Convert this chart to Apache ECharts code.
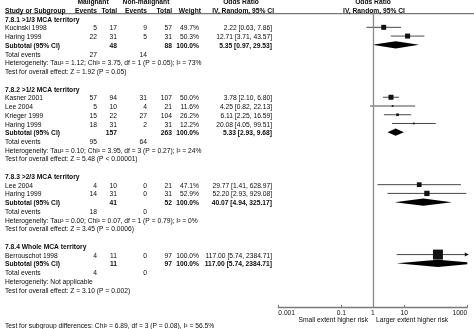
<!DOCTYPE html>
<html><head><meta charset="utf-8">
<script src="https://cdn.jsdelivr.net/npm/echarts@6/dist/echarts.min.js"></script>
<style>html,body{margin:0;padding:0;background:#fff}#c{width:474px;height:329px}</style>
</head><body><div id="c"></div>
<script>
// ---------- data ----------
const groupTitles = ['7.8.1 >1/3 MCA territory','7.8.2 >1/2 MCA territory','7.8.3 >2/3 MCA territory','7.8.4 Whole MCA territory'];
const studyGroup = [0,0,1,1,1,1,2,2,3];
const studyNames = ['Kucinski 1998','Haring 1999','Kasner 2001','Lee 2004','Krieger 1999','Haring 1999','Lee 2004','Haring 1999','Berrouschot 1998'];
const malEvents = [5,22,57,5,15,18,4,14,4];
const malTotal = [17,31,94,10,22,31,10,31,11];
const nonEvents = [9,5,31,4,27,2,0,0,0];
const nonTotal = [57,31,107,21,104,31,21,31,97];
const weights = [49.7,50.3,50.0,11.6,26.2,12.2,47.1,52.9,100.0];
const orValues = [2.22,12.71,3.78,4.25,6.11,20.08,29.77,52.20,117.00];
const ciLower = [0.63,3.71,2.10,0.82,2.25,4.05,1.41,2.93,5.74];
const ciUpper = [7.86,43.57,6.80,22.13,16.59,99.51,628.97,929.08,2384.71];
const subMalTotal = [48,157,41,11];
const subNonTotal = [88,263,52,97];
const subOR = [5.35,5.33,40.07,117.00];
const subLower = [0.97,2.93,4.94,5.74];
const subUpper = [29.53,9.68,325.17,2384.71];
const totMalEvents = [27,95,18,4];
const totNonEvents = [14,64,0,0];
const hetTexts = [
  'Heterogeneity: Tau² = 1.12; Chi² = 3.75, df = 1 (P = 0.05); I² = 73%',
  'Heterogeneity: Tau² = 0.10; Chi² = 3.95, df = 3 (P = 0.27); I² = 24%',
  'Heterogeneity: Tau² = 0.00; Chi² = 0.07, df = 1 (P = 0.79); I² = 0%',
  'Heterogeneity: Not applicable'
];
const effectTexts = [
  'Test for overall effect: Z = 1.92 (P = 0.05)',
  'Test for overall effect: Z = 5.48 (P < 0.00001)',
  'Test for overall effect: Z = 3.45 (P = 0.0006)',
  'Test for overall effect: Z = 3.10 (P = 0.002)'
];
const subgroupTest = 'Test for subgroup differences: Chi² = 6.89, df = 3 (P = 0.08), I² = 56.5%';
const tickValues = [0.001, 0.1, 1, 10, 1000];
const axisMin = 0.001, axisMax = 1000;
const nullValue = 1;
const favoursLeft = 'Small extent higher risk';
const favoursRight = 'Larger extent higher risk';
const groupHeaders = ['Malignant', 'Non-malignant', 'Odds Ratio', 'Odds Ratio'];
const colHeaders = ['Study or Subgroup', 'Events', 'Total', 'Events', 'Total', 'Weight', 'IV, Random, 95% CI', 'IV, Random, 95% CI'];

// ---------- layout ----------
const FONT = "'Liberation Sans', Arial, sans-serif";
const FS = 6.7;
const TEXT_DY = 1.2;
const COLS = {
  study: {x: 5, align: 'left'},
  malE: {x: 97, align: 'right'},
  malT: {x: 117, align: 'right'},
  nonE: {x: 147, align: 'right'},
  nonT: {x: 172, align: 'right'},
  weight: {x: 199, align: 'right'},
  orT: {x: 272, align: 'right'},
  orH: {x: 274, align: 'right'},
  g1: {x: 93, align: 'center'},
  g2: {x: 146, align: 'center'},
  g3: {x: 241, align: 'center'},
  g4: {x: 373, align: 'center'},
  plotH: {x: 374, align: 'center'},
  wH: {x: 201, align: 'right'},
  favL: {x: 368, align: 'right'},
  favR: {x: 376, align: 'left'}
};
const fmt2 = v => v.toFixed(2);
const orText = (o, l, h) => fmt2(o) + ' [' + fmt2(l) + ', ' + fmt2(h) + ']';

const textRows = [];
const studyRows = [];
const subRows = [];
textRows.push({row: -1, cells: [
  {t: groupHeaders[0], c: 'g1', b: true}, {t: groupHeaders[1], c: 'g2', b: true},
  {t: groupHeaders[2], c: 'g3', b: true}, {t: groupHeaders[3], c: 'g4', b: true}]});
textRows.push({row: 0, cells: [
  {t: colHeaders[0], c: 'study', b: true}, {t: colHeaders[1], c: 'malE', b: true},
  {t: colHeaders[2], c: 'malT', b: true}, {t: colHeaders[3], c: 'nonE', b: true},
  {t: colHeaders[4], c: 'nonT', b: true}, {t: colHeaders[5], c: 'wH', b: true},
  {t: colHeaders[6], c: 'orH', b: true}, {t: colHeaders[7], c: 'plotH', b: true}]});
let r = 1;
groupTitles.forEach((g, gi) => {
  textRows.push({row: r, cells: [{t: g, c: 'study', b: true}]}); r++;
  studyNames.forEach((n, i) => {
    if (studyGroup[i] !== gi) return;
    studyRows[i] = r;
    textRows.push({row: r, cells: [
      {t: n, c: 'study'}, {t: String(malEvents[i]), c: 'malE'}, {t: String(malTotal[i]), c: 'malT'},
      {t: String(nonEvents[i]), c: 'nonE'}, {t: String(nonTotal[i]), c: 'nonT'},
      {t: weights[i].toFixed(1) + '%', c: 'weight'}, {t: orText(orValues[i], ciLower[i], ciUpper[i]), c: 'orT'}]});
    r++;
  });
  subRows[gi] = r;
  textRows.push({row: r, cells: [
    {t: 'Subtotal (95% CI)', c: 'study', b: true}, {t: String(subMalTotal[gi]), c: 'malT', b: true},
    {t: String(subNonTotal[gi]), c: 'nonT', b: true}, {t: '100.0%', c: 'weight', b: true},
    {t: orText(subOR[gi], subLower[gi], subUpper[gi]), c: 'orT', b: true}]});
  r++;
  textRows.push({row: r, cells: [{t: 'Total events', c: 'study'}, {t: String(totMalEvents[gi]), c: 'malE'}, {t: String(totNonEvents[gi]), c: 'nonE'}]}); r++;
  textRows.push({row: r, cells: [{t: hetTexts[gi], c: 'study'}]}); r++;
  textRows.push({row: r, cells: [{t: effectTexts[gi], c: 'study'}]}); r++;
  r++;
});
textRows.push({row: 35.35, cells: [{t: favoursLeft, c: 'favL'}, {t: favoursRight, c: 'favR'}]});
textRows.push({row: 36.05, cells: [{t: subgroupTest, c: 'study'}]});

const studyData = studyNames.map((n, i) => [orValues[i], ciLower[i], ciUpper[i], studyRows[i], weights[i]]);
const subData = groupTitles.map((g, gi) => [subOR[gi], subLower[gi], subUpper[gi], subRows[gi]]);

const chart = echarts.init(document.getElementById('c'), null, {renderer: 'canvas'});
chart.setOption({
  animation: false,
  backgroundColor: '#fff',
  grid: {left: 278.3, right: 6.7, top: 13.7, bottom: 21.7},
  xAxis: {
    type: 'log', logBase: 10, min: axisMin, max: axisMax,
    axisLine: {lineStyle: {color: '#7a7a7a', width: 1.3}},
    axisTick: {show: true, inside: true, length: 2.5, customValues: tickValues, lineStyle: {color: '#7a7a7a', width: 1}},
    axisLabel: {customValues: tickValues, fontSize: FS, fontFamily: FONT, color: '#111', margin: 2.5,
      alignMinLabel: 'left', alignMaxLabel: 'right',
      formatter: v => String(+v.toPrecision(6))},
    splitLine: {show: false}, minorTick: {show: false}
  },
  yAxis: {type: 'value', inverse: true, min: 0.44, max: 34.03, show: false},
  graphic: [{type: 'line', shape: {x1: 5, y1: 13.7, x2: 474, y2: 13.7}, style: {stroke: '#555', lineWidth: 1}, silent: true}],
  series: [
    {
      type: 'custom', name: 'table', silent: true, z: 5,
      data: textRows.map(t => [nullValue, t.row]),
      renderItem: (params, api) => {
        const tr = textRows[params.dataIndex];
        const y = api.coord([nullValue, tr.row])[1] + TEXT_DY;
        return {type: 'group', children: tr.cells.map(cell => ({
          type: 'text',
          style: {x: COLS[cell.c].x, y: y, text: cell.t, fill: '#0a0a0a',
            font: (cell.b ? 'bold ' : '') + FS + 'px ' + FONT,
            align: COLS[cell.c].align, verticalAlign: 'middle'}
        }))};
      }
    },
    {
      type: 'custom', name: 'studies', silent: true, z: 4,
      data: studyData,
      encode: {x: [0, 1, 2], y: 3},
      renderItem: (params, api) => {
        const o = api.value(0), lo = api.value(1), hi = api.value(2), row = api.value(3), w = api.value(4);
        const c = api.coord([o, row]);
        const x1 = api.coord([Math.max(lo, axisMin), row])[0];
        const x2 = api.coord([Math.min(hi, axisMax), row])[0];
        const s = Math.max(1.7, w / 10);
        const ch = [
          {type: 'line', shape: {x1: x1, y1: c[1], x2: x2, y2: c[1]}, style: {stroke: '#333', lineWidth: 0.9}},
          {type: 'rect', shape: {x: c[0] - s / 2, y: c[1] - s / 2, width: s, height: s}, style: {fill: '#111'}}
        ];
        if (hi > axisMax) ch.push({type: 'polygon', shape: {points: [[x2 + 1.5, c[1]], [x2 - 2.5, c[1] - 2], [x2 - 2.5, c[1] + 2]]}, style: {fill: '#111'}});
        return {type: 'group', children: ch};
      }
    },
    {
      type: 'custom', name: 'subtotals', silent: true, z: 3,
      data: subData,
      encode: {x: [0, 1, 2], y: 3},
      renderItem: (params, api) => {
        const o = api.value(0), lo = api.value(1), hi = api.value(2), row = api.value(3);
        const c = api.coord([o, row]);
        const xl = api.coord([lo, row])[0];
        const xh = api.coord([hi, row])[0];
        const xmax = api.coord([axisMax, row])[0];
        const h = 3.6, y = c[1];
        let pts;
        if (xh > xmax) {
          const hh = h * (xh - xmax) / (xh - c[0]);
          pts = [[xl, y], [c[0], y - h], [xmax, y - hh], [xmax, y + hh], [c[0], y + h]];
        } else {
          pts = [[xl, y], [c[0], y - h], [xh, y], [c[0], y + h]];
        }
        return {type: 'polygon', shape: {points: pts}, style: {fill: '#000'}};
      },
      markLine: {
        silent: true, symbol: ['none', 'none'], label: {show: false},
        lineStyle: {color: '#8a8a8a', width: 1.3, type: 'solid'},
        data: [{xAxis: nullValue}]
      }
    }
  ]
});
</script></body></html>
